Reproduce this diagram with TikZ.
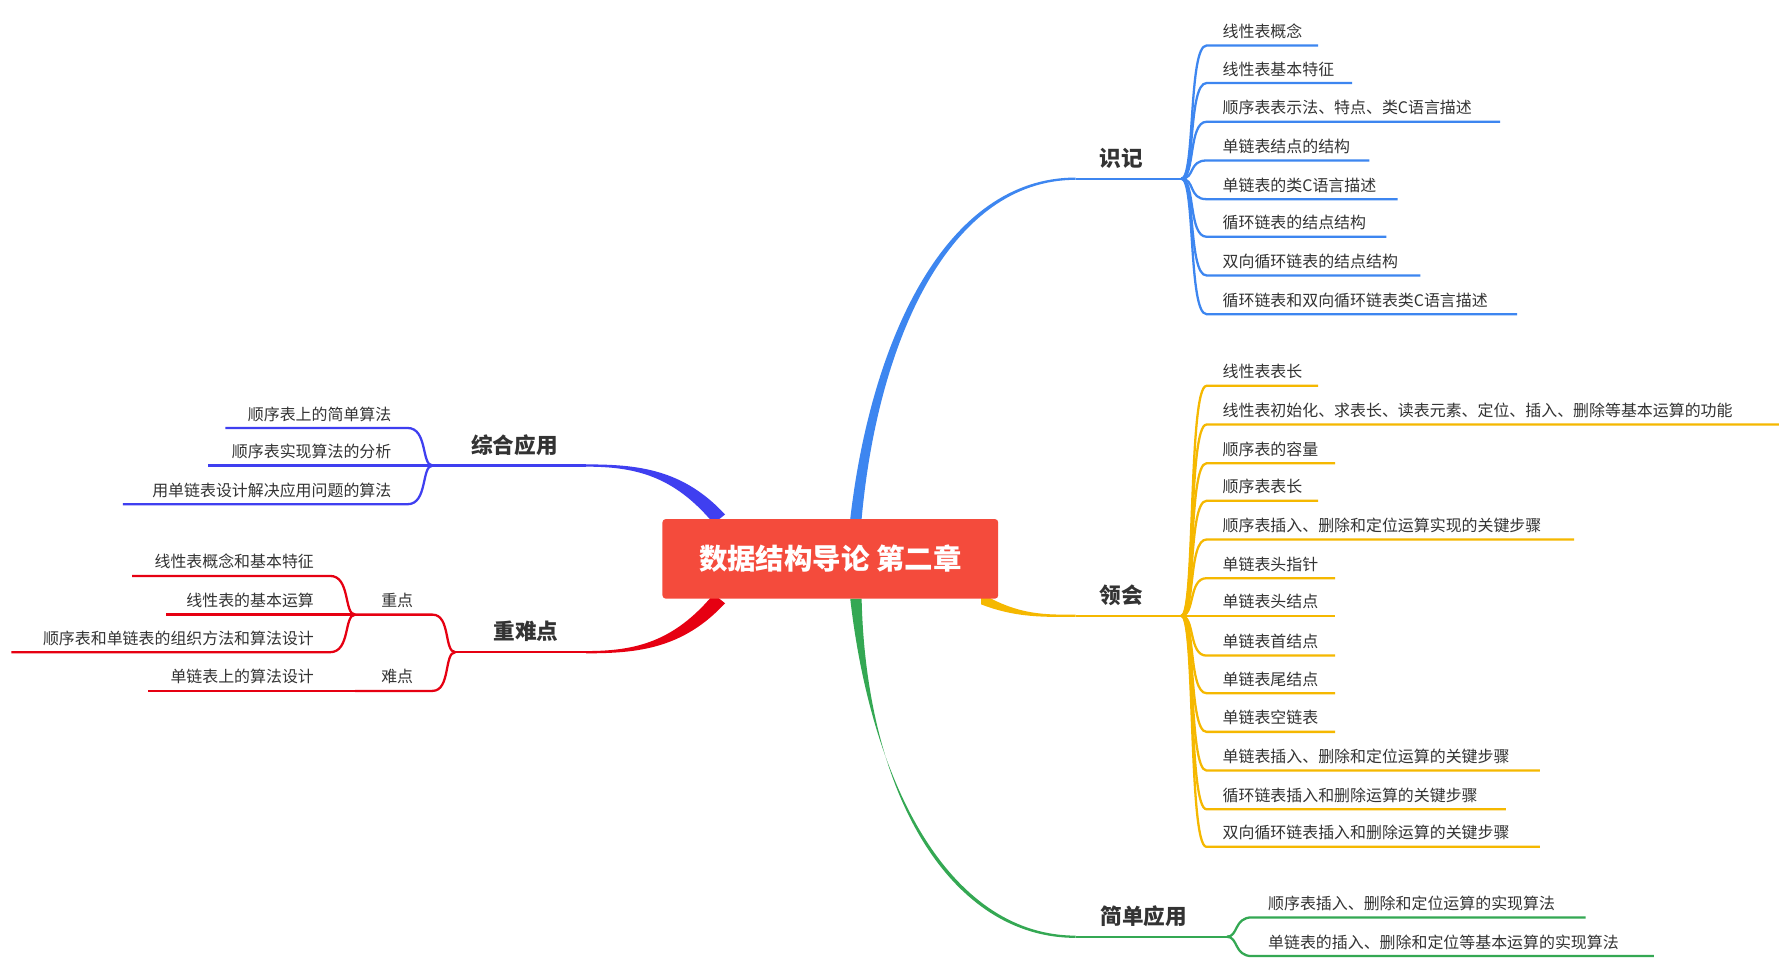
\documentclass[tikz,border=0pt]{standalone}
\usepackage{fontspec}
\setmainfont{Noto Sans CJK SC}
\begin{document}
\begin{tikzpicture}[x=1pt,y=-1pt,
  leaf/.style={font=\fontsize{14}{16}\selectfont,text=black!80,inner sep=0pt},
  branch/.style={font=\fontsize{19}{22}\selectfont\bfseries,text=black!80,inner sep=0pt},
  conn/.style={line width=2pt}]
\definecolor{cB}{HTML}{3D86F0}\definecolor{cY}{HTML}{F5B800}
\definecolor{cG}{HTML}{34A853}\definecolor{cP}{HTML}{3F3FF0}
\definecolor{cR}{HTML}{E60012}\definecolor{cC}{HTML}{F44B3C}
\useasboundingbox (0,0) rectangle (1563,857);
\fill[white] (0,0) rectangle (1563,857);
% main branches (tapered)
\fill[cB] (747,456) .. controls (765,300) and (830,156) .. (945,156) -- (945,158) .. controls (834,158) and (771,300) .. (757,456) -- cycle;
\fill[cY] (862,521) .. controls (895,541) and (920,540) .. (945,540) -- (945,542) .. controls (918,542) and (893,543) .. (862,531) -- cycle;
\fill[cG] (747,526) .. controls (767,700) and (840,822) .. (945,822) -- (945,824) .. controls (836,824) and (761,700) .. (757,526) -- cycle;
\fill[cP] (637,452) .. controls (600,412) and (560,408) .. (515,408) -- (515,410) .. controls (558,410) and (592,418) .. (627,460) -- cycle;
\fill[cR] (637,530) .. controls (600,570) and (560,574) .. (515,574) -- (515,572) .. controls (558,572) and (592,564) .. (627,522) -- cycle;
% center
\node[fill=cC,rounded corners=3pt,minimum width=295pt,minimum height=70pt,text=white,font=\fontsize{25}{28}\selectfont\bfseries] (c) at (729.5,491) {数据结构导论\ 第二章};
% 识记
\coordinate (hb) at (1038,157);
\draw[cB,conn] (945,157) -- (hb);
\node[branch,anchor=base] (b1) at (985,146) {识记};
\foreach \y/\e/\t in {40/1158/线性表概念,73/1188/线性表基本特征,107/1318/顺序表表示法、特点、类C语言描述,141/1203/单链表结点的结构,175/1228/单链表的类C语言描述,208/1218/循环链表的结点结构,242/1248/双向循环链表的结点结构,276/1333/循环链表和双向循环链表类C语言描述}{
  \draw[cB,conn] (hb) .. controls (1050,157) and (1044,\y) .. (1060,\y) -- (\e,\y);
  \node[leaf,anchor=base west] (b\y) at (1074,\y-7) {\t};}
% 领会
\coordinate (hy) at (1038,541);
\draw[cY,conn] (945,541) -- (hy);
\node[branch,anchor=base] (y1) at (985,530) {领会};
\foreach \y/\e/\t in {339/1158/线性表表长,373/1563/线性表初始化、求表长、读表元素、定位、插入、删除等基本运算的功能,407/1173/顺序表的容量,440/1158/顺序表表长,474/1383/顺序表插入、删除和定位运算实现的关键步骤,508/1173/单链表头指针,541/1173/单链表头结点,576/1173/单链表首结点,609/1173/单链表尾结点,643/1173/单链表空链表,677/1353/单链表插入、删除和定位运算的关键步骤,711/1323/循环链表插入和删除运算的关键步骤,744/1353/双向循环链表插入和删除运算的关键步骤}{
  \draw[cY,conn] (hy) .. controls (1050,541) and (1044,\y) .. (1060,\y) -- (\e,\y);
  \node[leaf,anchor=base west] (y\y) at (1074,\y-7) {\t};}
% 简单应用
\coordinate (hg) at (1078,823);
\draw[cG,conn] (945,823) -- (hg);
\node[branch,anchor=base] (g1) at (1005,812) {简单应用};
\foreach \y/\e/\t in {806/1393/顺序表插入、删除和定位运算的实现算法,840/1453/单链表的插入、删除和定位等基本运算的实现算法}{
  \draw[cG,conn] (hg) .. controls (1088,823) and (1084,\y) .. (1100,\y) -- (\e,\y);
  \node[leaf,anchor=base west] (g\y) at (1114,\y-7) {\t};}
% 综合应用
\coordinate (hp) at (380,409);
\draw[cP,conn] (515,409) -- (hp);
\node[branch,anchor=base] (p1) at (452,398) {综合应用};
\foreach \y/\s/\t in {376/198/顺序表上的简单算法,409/183/顺序表实现算法的分析,443/108/用单链表设计解决应用问题的算法}{
  \draw[cP,conn] (hp) .. controls (370,409) and (376,\y) .. (358,\y) -- (\s,\y);
  \node[leaf,anchor=base east] (p\y) at (344,\y-7) {\t};}
% 重难点
\coordinate (hr) at (400,573);
\draw[cR,conn] (515,573) -- (hr);
\node[branch,anchor=base] (r1) at (462,562) {重难点};
\coordinate (hz) at (312,540);
\coordinate (hn) at (312,607);
\draw[cR,conn] (hr) .. controls (390,573) and (396,540) .. (380,540) -- (hz);
\draw[cR,conn] (hr) .. controls (390,573) and (396,607) .. (380,607) -- (hn);
\node[leaf,anchor=base] (z) at (349,533) {重点};
\node[leaf,anchor=base] (n) at (349,600) {难点};
\foreach \y/\s/\t in {506/116/线性表概念和基本特征,540/146/线性表的基本运算,573/10/顺序表和单链表的组织方法和算法设计}{
  \draw[cR,conn] (hz) .. controls (302,540) and (308,\y) .. (290,\y) -- (\s,\y);
  \node[leaf,anchor=base east] (r\y) at (276,\y-7) {\t};}
\draw[cR,conn] (hn) -- (130,607);
\node[leaf,anchor=base east] (r607) at (276,600) {单链表上的算法设计};
\end{tikzpicture}
\end{document}
